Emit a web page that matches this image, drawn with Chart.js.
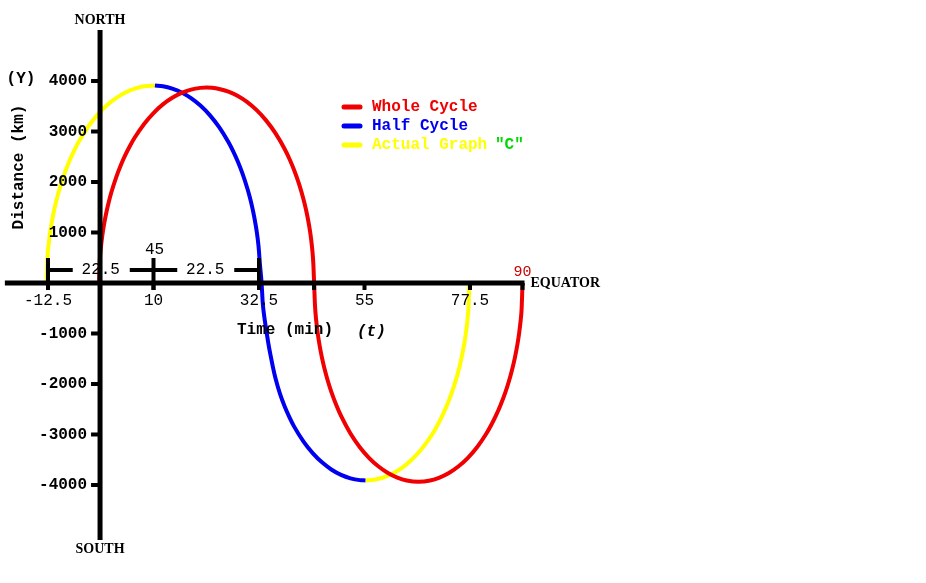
<!DOCTYPE html>
<html>
<head>
<meta charset="utf-8">
<title>Whole cycle / half cycle</title>
<script src="https://cdn.jsdelivr.net/npm/chart.js@4/dist/chart.umd.min.js"></script>
<style>
  html, body { margin: 0; padding: 0; background: #fff; }
  #wrap { width: 926px; height: 583px; }
</style>
</head>
<body>
<div id="wrap"><canvas id="cycleChart"></canvas></div>
<script>
// values (x in minutes, y in km)
const xTickValues = [-12.5, 10, 32.5, 55, 77.5];
const xTickLabels = ['-12.5', '10', '32.5', '55', '77.5'];
const yTickValues = [4000, 3000, 2000, 1000, -1000, -2000, -3000, -4000];
const yTickLabels = ['4000', '3000', '2000', '1000', '-1000', '-2000', '-3000', '-4000'];
const bracketStops = [-12.5, 10, 32.5];
const bracketLabels = ['22.5', '22.5'];
const bracketMidLabel = '45';
const wholeCycleEndLabel = '90';
const seriesNames = ['Whole Cycle', 'Half Cycle', 'Actual Graph'];

// whole cycle (red)
const redX = [-1.6, -1.45, -1.2, -0.9, -0.5, 0, 0.5, 1, 2, 3, 4, 5, 6, 8, 10, 12, 14, 16, 18, 20, 21.3, 22.5, 24, 26, 28, 30, 32, 34, 36, 38, 39, 40, 41, 42, 42.6, 43.2, 43.6, 43.9, 44.1,
  44.25, 44.45, 44.7, 45, 45.4, 45.9, 46.5, 47.2, 48, 49, 50, 52, 54, 56, 58, 60, 62, 64, 66.5, 69, 71, 73, 75, 77, 79, 81, 82, 83, 84, 85, 85.8, 86.5, 87.1, 87.6, 88, 88.3, 88.5, 88.7];
const redY = [0, 442, 720, 950, 1185, 1421, 1619, 1791, 2083, 2327, 2536, 2718, 2880, 3150, 3366, 3537, 3668, 3765, 3830, 3864, 3870, 3865, 3843, 3788, 3701, 3580, 3422, 3220, 2967, 2648, 2455, 2234, 1973, 1655, 1421, 1131, 880, 624, 361,
  0, -457, -744, -980, -1223, -1467, -1708, -1945, -2175, -2421, -2633, -2980, -3252, -3467, -3635, -3763, -3853, -3910, -3935, -3910, -3853, -3763, -3635, -3467, -3252, -2980, -2817, -2633, -2421, -2175, -1945, -1708, -1467, -1223, -980, -744, -527, 0];

// half cycle (blue)
const blueX = [10.3, 12, 14, 16, 18, 20, 22, 24, 26, 27, 28, 29, 30, 30.5, 31, 31.5, 32, 32.4, 32.7, 33.05,
  33.3, 33.6, 34, 34.5, 35, 35.5, 36, 37, 38, 39, 40, 42, 44, 46, 48, 50, 52, 54, 55.2];
const blueY = [3910, 3895, 3849, 3772, 3661, 3514, 3325, 3086, 2786, 2606, 2400, 2161, 1877, 1711, 1523, 1301, 1027, 729, 366, 0,
  -400, -650, -900, -1200, -1450, -1680, -1880, -2200, -2450, -2660, -2844, -3140, -3373, -3557, -3698, -3801, -3869, -3904, -3910];

// the actual graph is the two outer quarter arcs; null breaks the line in the middle
const yellowX = [-12.8, -12.6, -12.3, -12, -11.5, -11, -10, -9, -8, -7, -6, -4, -2, 0, 2, 4, 6, 8, 10.3, 32.7,
  55.2, 57, 59, 61, 63, 65, 67, 69, 70, 71, 72, 73, 74, 74.5, 75, 75.5, 76, 76.5, 76.9, 77.2, 77.35];
const yellowY = [0, 517, 814, 1027, 1301, 1523, 1877, 2161, 2400, 2606, 2786, 3086, 3325, 3514, 3661, 3772, 3849, 3895, 3910, null,
  -3910, -3897, -3852, -3774, -3660, -3506, -3309, -3058, -2909, -2740, -2548, -2327, -2068, -1919, -1753, -1564, -1344, -1073, -784, -454, 0];

const RED = '#f00000';
const BLUE = '#0000f0';
const YELLOW = '#ffff00';
const GREEN = '#00d800';

const zip = (xs, ys) => xs.map((x, i) => ({ x: x, y: ys[i] }));

// ticks on the axis where the whole cycle crosses zero
const crossingTicks = redX.filter((x, i) => i > 0 && redY[i] === 0);
const yAxisAt = -1.4;
const xAxisFrom = -21.7;
const xAxisTo = redX[redX.length - 1];
const yAxisTop = 5010;
const yAxisBottom = -5090;

const MONO = '"Liberation Mono", "Courier New", monospace';
const SERIF = '"Liberation Serif", serif';

function seg(ctx, x1, y1, x2, y2) {
  ctx.beginPath();
  ctx.moveTo(x1, y1);
  ctx.lineTo(x2, y2);
  ctx.stroke();
}

function label(ctx, text, x, y, font, color, align) {
  ctx.font = font;
  ctx.fillStyle = color;
  ctx.textAlign = align || 'center';
  ctx.textBaseline = 'middle';
  ctx.fillText(text, x, y);
}

const handAxes = {
  id: 'handAxes',
  afterDatasetsDraw(chart) {
    const ctx = chart.ctx;
    const x = chart.scales.x;
    const y = chart.scales.y;
    const x0 = x.getPixelForValue(yAxisAt);
    const y0 = y.getPixelForValue(0);

    ctx.save();
    ctx.strokeStyle = '#000';
    ctx.lineCap = 'butt';

    // main axes
    ctx.lineWidth = 5;
    seg(ctx, x.getPixelForValue(xAxisFrom), y0, x.getPixelForValue(xAxisTo) + 2, y0);
    seg(ctx, x0, y.getPixelForValue(yAxisTop), x0, y.getPixelForValue(yAxisBottom));

    // y ticks
    ctx.lineWidth = 4;
    yTickValues.forEach(v => {
      const py = y.getPixelForValue(v);
      seg(ctx, x0 - 9, py, x0, py);
    });

    // x ticks below the axis
    xTickValues.concat(crossingTicks).forEach(v => {
      const px = x.getPixelForValue(v);
      seg(ctx, px, y0, px, y0 + 7);
    });

    // the 22.5 + 22.5 bracket
    const by = y0 - 13;
    bracketStops.forEach(v => {
      const px = x.getPixelForValue(v);
      seg(ctx, px, y0 - 25, px, y0 + 7);
    });
    for (let i = 0; i < bracketLabels.length; i++) {
      const a = x.getPixelForValue(bracketStops[i]);
      const b = x.getPixelForValue(bracketStops[i + 1]);
      const mid = (a + b) / 2 - i;
      seg(ctx, a, by, mid - 28, by);
      seg(ctx, mid + 29, by, b, by);
      label(ctx, bracketLabels[i], mid, by, '16px ' + MONO, '#000');
    }
    label(ctx, bracketMidLabel, x.getPixelForValue(bracketStops[1]) + 1, y0 - 33, '16px ' + MONO, '#000');

    // tick labels
    yTickValues.forEach((v, i) => {
      label(ctx, yTickLabels[i], x0 - 13, y.getPixelForValue(v), 'bold 16px ' + MONO, '#000', 'right');
    });
    xTickValues.forEach((v, i) => {
      label(ctx, xTickLabels[i], x.getPixelForValue(v), y0 + 18, '16px ' + MONO, '#000');
    });
    const endPx = x.getPixelForValue(xAxisTo);
    label(ctx, wholeCycleEndLabel, endPx, y0 - 11, '15px ' + MONO, '#d00000');

    // axis names
    label(ctx, 'NORTH', x0, 20, 'bold 14px ' + SERIF, '#000');
    label(ctx, 'SOUTH', x0, 549, 'bold 14px ' + SERIF, '#000');
    label(ctx, 'EQUATOR', endPx + 8, y0, 'bold 14px ' + SERIF, '#000', 'left');
    label(ctx, '(Y)', 21, 79, 'bold 16px ' + MONO, '#000');
    label(ctx, 'Time (min)', 237, 330, 'bold 16px ' + MONO, '#000', 'left');
    label(ctx, '(t)', 357, 332, 'italic bold 16px ' + MONO, '#000', 'left');

    ctx.save();
    ctx.translate(19, 167);
    ctx.rotate(-Math.PI / 2);
    label(ctx, 'Distance (km)', 0, 0, 'bold 16px ' + MONO, '#000');
    ctx.restore();

    // legend
    const colors = [RED, BLUE, YELLOW];
    const rows = [107, 126, 145];
    ctx.lineCap = 'round';
    ctx.lineWidth = 5;
    seriesNames.forEach((name, i) => {
      ctx.strokeStyle = colors[i];
      seg(ctx, 344, rows[i], 360, rows[i]);
      label(ctx, name, 372, rows[i], 'bold 16px ' + MONO, colors[i], 'left');
    });
    label(ctx, '"C"', 495, rows[2], 'bold 16px ' + MONO, GREEN, 'left');

    ctx.restore();
  }
};

const ctx = document.getElementById('cycleChart').getContext('2d');

const cycleChart = new Chart(ctx, {
  type: 'line',
  data: {
    datasets: [{
      label: seriesNames[0],
      data: zip(redX, redY),
      borderColor: RED,
      borderWidth: 4,
      pointRadius: 0,
      cubicInterpolationMode: 'monotone',
      fill: false
    }, {
      label: seriesNames[1],
      data: zip(blueX, blueY),
      borderColor: BLUE,
      borderWidth: 4,
      pointRadius: 0,
      cubicInterpolationMode: 'monotone',
      fill: false
    }, {
      label: seriesNames[2],
      data: zip(yellowX, yellowY),
      borderColor: YELLOW,
      borderWidth: 4,
      pointRadius: 0,
      cubicInterpolationMode: 'monotone',
      spanGaps: false,
      fill: false
    }]
  },
  options: {
    responsive: true,
    maintainAspectRatio: false,
    animation: false,
    events: [],
    layout: { padding: 0 },
    scales: {
      // chart area is the whole canvas; -12.5 sits at 48px and 77.5 at 470px
      x: { type: 'linear', min: -22.737, max: 174.75, display: false },
      y: { type: 'linear', min: -5941, max: 5604, display: false }
    },
    plugins: {
      legend: { display: false }, // drawn by hand in the plugin
      tooltip: { enabled: false }
    }
  },
  plugins: [handAxes]
});
</script>
</body>
</html>
